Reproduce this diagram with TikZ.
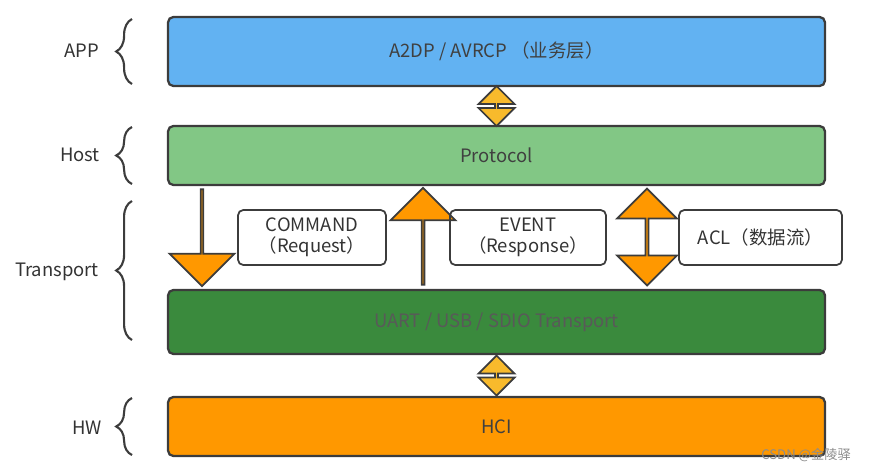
\documentclass[tikz,border=0pt]{standalone}
\usepackage{fontspec}
\setmainfont{Noto Sans CJK SC}
\usetikzlibrary{shapes.arrows}
\usetikzlibrary{decorations.pathreplacing}

\definecolor{appblue}{HTML}{62B2F2}
\definecolor{hostgreen}{HTML}{82C785}
\definecolor{tpgreen}{HTML}{3A8A3D}
\definecolor{hworange}{HTML}{FF9800}
\definecolor{linkgold}{HTML}{F8BA2C}
\definecolor{edge}{HTML}{3C3C3C}

\begin{document}
\begin{tikzpicture}[x=0.02cm,y=-0.02cm,font=\fontsize{10.5}{12}\selectfont]
   \tikzset{Layer/.style={draw=edge, line width=1.3pt, rounded corners=3pt,
      minimum width=13.14cm, minimum height=1.22cm, text=black!75}}
   \tikzset{Tag/.style={draw=edge, line width=1pt, rounded corners=3pt,
      minimum height=1.1cm, align=center, text=black!80}}
   \tikzset{Flow/.style={draw=edge, line width=1pt, fill=hworange, inner sep=0pt,
      minimum width=1.3cm, minimum height=1.94cm, single arrow head extend=0.4cm}}
   \tikzset{Link/.style={draw=edge, line width=1pt, fill=linkgold, double arrow,
      shape border rotate=90, inner sep=0pt, minimum width=0.72cm,
      minimum height=0.8cm, double arrow head extend=0.2cm}}
   \tikzset{Brace/.style={decorate, decoration={brace, amplitude=9pt}, line width=1.2pt, draw=edge}}
   \useasboundingbox (0,0) rectangle (872,471);
   % layers
   \node[Layer, fill=appblue, minimum height=1.38cm] (app) at (496.5,51.5) {A2DP / AVRCP （业务层）};
   \node[Layer, fill=hostgreen, minimum height=1.18cm] (host) at (496.5,155.5) {Protocol};
   \node[Layer, fill=tpgreen, minimum height=1.28cm, text=black!65] (tp) at (496.5,322) {UART / USB / SDIO Transport};
   \node[Layer, fill=hworange, minimum height=1.18cm] (hw) at (496.5,426.5) {HCI};
   % links between layers
   \node[Link] (l1) at (496.5,106) {};
   \node[Link] (l2) at (496.5,375.5) {};
   % transport flows
   \node[Flow, single arrow, shape border rotate=270] (cmd) at (202,237) {};
   \node[Flow, single arrow, shape border rotate=90] (evt) at (423,237) {};
   \node[Flow, double arrow, shape border rotate=90, minimum width=1.2cm,
      double arrow head extend=0.35cm] (acl) at (647,237) {};
   \node[Tag, minimum width=2.96cm] (cmdtag) at (312,237.5) {COMMAND\\（Request）};
   \node[Tag, minimum width=3.12cm] (evttag) at (528,237.5) {EVENT\\（Response）};
   \node[Tag, minimum width=3.26cm] (acltag) at (760.5,237.5) {ACL（数据流）};
   % braces
   \draw[Brace] (132,84) -- (132,19);
   \draw[Brace] (132,184) -- (132,127);
   \draw[Brace] (132,340) -- (132,201);
   \draw[Brace] (132,455) -- (132,398);
   \node[text=black!80] (appname) at (82,51) {APP};
   \node[text=black!80] (hostname) at (80,155) {Host};
   \node[text=black!80] (tpname) at (57,272) {Transport};
   \node[text=black!80] (hwname) at (87,428) {HW};
   \node[text=black!45, font=\fontsize{7.5}{9}\selectfont] (mark) at (806,455) {CSDN @金陵驿};
\end{tikzpicture}
\end{document}
